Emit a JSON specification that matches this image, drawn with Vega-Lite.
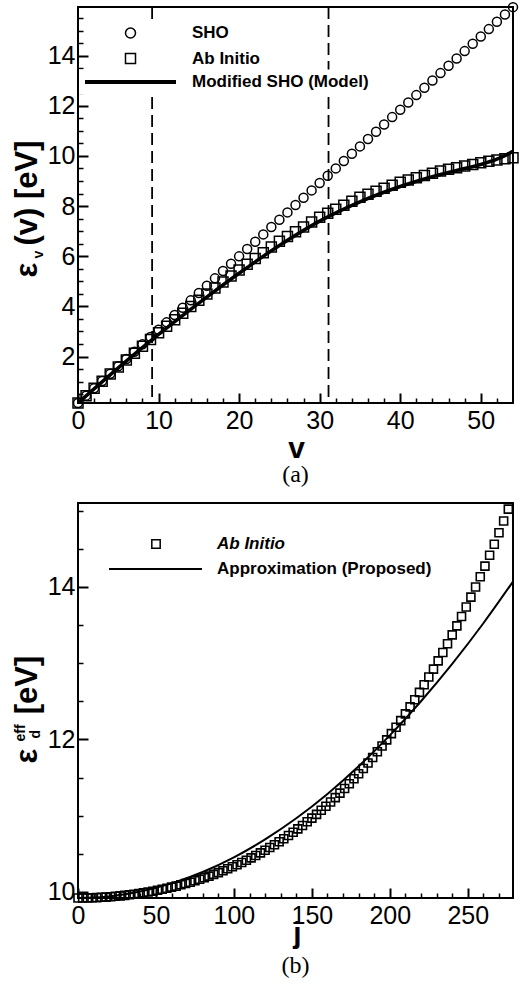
{
  "$schema": "https://vega.github.io/schema/vega-lite/v6.json",
  "background": "white",
  "padding": {"left": 10, "top": -2, "right": 0, "bottom": 0},
  "columns": 1,
  "align": "none",
  "spacing": 12,
  "resolve": {"scale": {"shape": "independent", "color": "independent"}, "legend": {"shape": "independent", "color": "independent"}},
  "datasets": {
    "a": [
      {"v": 0, "sho": 0.146, "ab": 0.146},
      {"v": 1, "sho": 0.439, "ab": 0.44},
      {"v": 2, "sho": 0.731, "ab": 0.73},
      {"v": 3, "sho": 1.023, "ab": 1.01},
      {"v": 4, "sho": 1.316, "ab": 1.30},
      {"v": 5, "sho": 1.608, "ab": 1.58},
      {"v": 6, "sho": 1.901, "ab": 1.86},
      {"v": 7, "sho": 2.193, "ab": 2.13},
      {"v": 8, "sho": 2.485, "ab": 2.41},
      {"v": 9, "sho": 2.778, "ab": 2.68},
      {"v": 10, "sho": 3.070, "ab": 2.95},
      {"v": 11, "sho": 3.363, "ab": 3.21},
      {"v": 12, "sho": 3.655, "ab": 3.47},
      {"v": 13, "sho": 3.947, "ab": 3.73},
      {"v": 14, "sho": 4.240, "ab": 3.99},
      {"v": 15, "sho": 4.532, "ab": 4.24},
      {"v": 16, "sho": 4.824, "ab": 4.49},
      {"v": 17, "sho": 5.117, "ab": 4.73},
      {"v": 18, "sho": 5.409, "ab": 4.97},
      {"v": 19, "sho": 5.702, "ab": 5.21},
      {"v": 20, "sho": 5.994, "ab": 5.45},
      {"v": 21, "sho": 6.286, "ab": 5.68},
      {"v": 22, "sho": 6.579, "ab": 5.91},
      {"v": 23, "sho": 6.871, "ab": 6.14},
      {"v": 24, "sho": 7.163, "ab": 6.37},
      {"v": 25, "sho": 7.456, "ab": 6.60},
      {"v": 26, "sho": 7.748, "ab": 6.79},
      {"v": 27, "sho": 8.041, "ab": 6.98},
      {"v": 28, "sho": 8.333, "ab": 7.17},
      {"v": 29, "sho": 8.625, "ab": 7.36},
      {"v": 30, "sho": 8.918, "ab": 7.55},
      {"v": 31, "sho": 9.210, "ab": 7.71},
      {"v": 32, "sho": 9.503, "ab": 7.87},
      {"v": 33, "sho": 9.795, "ab": 8.03},
      {"v": 34, "sho": 10.087, "ab": 8.19},
      {"v": 35, "sho": 10.380, "ab": 8.35},
      {"v": 36, "sho": 10.672, "ab": 8.47},
      {"v": 37, "sho": 10.964, "ab": 8.59},
      {"v": 38, "sho": 11.257, "ab": 8.71},
      {"v": 39, "sho": 11.549, "ab": 8.83},
      {"v": 40, "sho": 11.842, "ab": 8.95},
      {"v": 41, "sho": 12.134, "ab": 9.04},
      {"v": 42, "sho": 12.426, "ab": 9.13},
      {"v": 43, "sho": 12.719, "ab": 9.22},
      {"v": 44, "sho": 13.011, "ab": 9.31},
      {"v": 45, "sho": 13.303, "ab": 9.40},
      {"v": 46, "sho": 13.596, "ab": 9.47},
      {"v": 47, "sho": 13.888, "ab": 9.53},
      {"v": 48, "sho": 14.181, "ab": 9.60},
      {"v": 49, "sho": 14.473, "ab": 9.66},
      {"v": 50, "sho": 14.765, "ab": 9.73},
      {"v": 51, "sho": 15.058, "ab": 9.79},
      {"v": 52, "sho": 15.350, "ab": 9.84},
      {"v": 53, "sho": 15.642, "ab": 9.89},
      {"v": 54, "sho": 15.935, "ab": 9.93}
    ],
    "model": [
      {"v": 0, "e": 0.146},
      {"v": 5, "e": 1.55},
      {"v": 10, "e": 2.88},
      {"v": 15, "e": 4.13},
      {"v": 20, "e": 5.32},
      {"v": 25, "e": 6.43},
      {"v": 30, "e": 7.40},
      {"v": 35, "e": 8.17},
      {"v": 40, "e": 8.78},
      {"v": 45, "e": 9.26},
      {"v": 48, "e": 9.50},
      {"v": 50, "e": 9.66},
      {"v": 52, "e": 9.87},
      {"v": 54, "e": 10.18}
    ],
    "dash": [{"v": 9.2}, {"v": 31.1}],
    "b": [
      {"j": 0, "e": 9.920}, {"j": 3, "e": 9.920}, {"j": 6, "e": 9.921}, {"j": 9, "e": 9.923},
      {"j": 12, "e": 9.925}, {"j": 15, "e": 9.929}, {"j": 18, "e": 9.932}, {"j": 21, "e": 9.937},
      {"j": 24, "e": 9.942}, {"j": 27, "e": 9.948}, {"j": 30, "e": 9.954}, {"j": 33, "e": 9.962},
      {"j": 36, "e": 9.970}, {"j": 39, "e": 9.979}, {"j": 42, "e": 9.988}, {"j": 45, "e": 9.998},
      {"j": 48, "e": 10.009}, {"j": 51, "e": 10.021}, {"j": 54, "e": 10.034}, {"j": 57, "e": 10.047},
      {"j": 60, "e": 10.062}, {"j": 63, "e": 10.076}, {"j": 66, "e": 10.093}, {"j": 69, "e": 10.110},
      {"j": 72, "e": 10.127}, {"j": 75, "e": 10.146}, {"j": 78, "e": 10.165}, {"j": 81, "e": 10.185},
      {"j": 84, "e": 10.207}, {"j": 87, "e": 10.230}, {"j": 90, "e": 10.253}, {"j": 93, "e": 10.277},
      {"j": 96, "e": 10.303}, {"j": 99, "e": 10.329}, {"j": 102, "e": 10.356}, {"j": 105, "e": 10.385},
      {"j": 108, "e": 10.415}, {"j": 111, "e": 10.446}, {"j": 114, "e": 10.478}, {"j": 117, "e": 10.512},
      {"j": 120, "e": 10.546}, {"j": 123, "e": 10.582}, {"j": 126, "e": 10.619}, {"j": 129, "e": 10.657},
      {"j": 132, "e": 10.697}, {"j": 135, "e": 10.739}, {"j": 138, "e": 10.782}, {"j": 141, "e": 10.826},
      {"j": 144, "e": 10.871}, {"j": 147, "e": 10.919}, {"j": 150, "e": 10.967}, {"j": 153, "e": 11.017},
      {"j": 156, "e": 11.070}, {"j": 159, "e": 11.123}, {"j": 162, "e": 11.179}, {"j": 165, "e": 11.236},
      {"j": 168, "e": 11.295}, {"j": 171, "e": 11.356}, {"j": 174, "e": 11.419}, {"j": 177, "e": 11.483},
      {"j": 180, "e": 11.550}, {"j": 183, "e": 11.619}, {"j": 186, "e": 11.690}, {"j": 189, "e": 11.762},
      {"j": 192, "e": 11.837}, {"j": 195, "e": 11.914}, {"j": 198, "e": 11.994}, {"j": 201, "e": 12.076},
      {"j": 204, "e": 12.160}, {"j": 207, "e": 12.246}, {"j": 210, "e": 12.335}, {"j": 213, "e": 12.426},
      {"j": 216, "e": 12.520}, {"j": 219, "e": 12.617}, {"j": 222, "e": 12.716}, {"j": 225, "e": 12.818},
      {"j": 228, "e": 12.922}, {"j": 231, "e": 13.029}, {"j": 234, "e": 13.140}, {"j": 237, "e": 13.254},
      {"j": 240, "e": 13.370}, {"j": 243, "e": 13.489}, {"j": 246, "e": 13.611}, {"j": 249, "e": 13.736},
      {"j": 252, "e": 13.866}, {"j": 255, "e": 13.998}, {"j": 258, "e": 14.133}, {"j": 261, "e": 14.272},
      {"j": 264, "e": 14.414}, {"j": 267, "e": 14.560}, {"j": 270, "e": 14.709}, {"j": 273, "e": 14.863},
      {"j": 276, "e": 15.020}
    ],
    "bline": [
      {"j": 0, "e": 9.920},
      {"j": 20, "e": 9.941},
      {"j": 40, "e": 10.005},
      {"j": 60, "e": 10.112},
      {"j": 80, "e": 10.261},
      {"j": 100, "e": 10.453},
      {"j": 120, "e": 10.688},
      {"j": 140, "e": 10.965},
      {"j": 160, "e": 11.284},
      {"j": 180, "e": 11.647},
      {"j": 200, "e": 12.052},
      {"j": 220, "e": 12.500},
      {"j": 240, "e": 12.990},
      {"j": 260, "e": 13.523},
      {"j": 279, "e": 14.070}
    ]
  },
  "concat": [
    {
      "width": 435,
      "height": 396,
      "title": {"text": "(a)", "orient": "bottom", "frame": "group", "anchor": "middle", "font": "Liberation Serif", "fontSize": 24, "fontWeight": "normal", "color": "black", "offset": 0},
      "resolve": {"axis": {"x": "independent", "y": "independent"}},
      "layer": [
        {
          "data": {"name": "dash"},
          "mark": {"type": "rule", "color": "black", "strokeWidth": 1.8, "strokeDash": [12, 6]},
          "encoding": {
            "x": {"field": "v", "type": "quantitative", "scale": {"domain": [0, 54], "nice": false, "zero": false}, "axis": null}
          }
        },
        {
          "data": {"name": "a"},
          "mark": {"type": "point", "filled": false, "size": 81, "strokeWidth": 1.5, "color": "black", "opacity": 1},
          "encoding": {
            "x": {"field": "v", "type": "quantitative", "scale": {"domain": [0, 54], "nice": false, "zero": false},
              "axis": {"orient": "bottom", "values": [0, 10, 20, 30, 40, 50], "tickSize": -10, "tickWidth": 2, "labelFontSize": 25, "labelPadding": 15,
                "title": "v", "titleFontSize": 30, "titleFontWeight": "bold", "titleX": 218, "titleY": 54, "titleAlign": "center", "titleBaseline": "alphabetic"}},
            "y": {"field": "sho", "type": "quantitative", "scale": {"domain": [0.146, 15.94], "nice": false, "zero": false},
              "axis": {"orient": "left", "values": [2, 4, 6, 8, 10, 12, 14], "tickSize": -10, "tickWidth": 2, "labelFontSize": 25, "labelPadding": 13,
                "title": "ε", "titleFontSize": 31, "titleFontWeight": "bold", "titleAngle": 270, "titleAlign": "left", "titleBaseline": "alphabetic", "titleX": -42, "titleY": 270}},
            "shape": {"datum": "SHO", "type": "nominal",
              "scale": {"domain": ["SHO", "Ab Initio"], "range": ["circle", "square"]},
              "legend": {"orient": "none", "legendX": 40, "legendY": 13.5, "title": null, "direction": "vertical", "columns": 1,
                "padding": 4, "fillColor": "white", "labelFontSize": 17, "labelFontWeight": "bold", "labelOffset": 53, "labelLimit": 400,
                "symbolSize": 100, "symbolStrokeWidth": 1.5, "rowPadding": 7.5, "symbolStrokeColor": "black", "symbolFillColor": "transparent"}}
          }
        },
        {
          "data": {"name": "a"},
          "mark": {"type": "point", "filled": false, "size": 100, "strokeWidth": 1.5, "color": "black", "opacity": 1},
          "encoding": {
            "x": {"field": "v", "type": "quantitative",
              "axis": {"orient": "bottom", "values": [2, 4, 6, 8, 12, 14, 16, 18, 22, 24, 26, 28, 32, 34, 36, 38, 42, 44, 46, 48, 52], "tickSize": -5, "tickWidth": 1.5, "labels": false, "title": null}},
            "y": {"field": "ab", "type": "quantitative",
              "axis": {"orient": "left", "values": [0.5, 1, 1.5, 2.5, 3, 3.5, 4.5, 5, 5.5, 6.5, 7, 7.5, 8.5, 9, 9.5, 10.5, 11, 11.5, 12.5, 13, 13.5, 14.5, 15, 15.5], "tickSize": -5, "tickWidth": 1.5, "labels": false,
                "title": "v", "titleFontSize": 14, "titleFontWeight": "bold", "titleAngle": 270, "titleAlign": "left", "titleBaseline": "alphabetic", "titleX": -36, "titleY": 251}},
            "shape": {"datum": "Ab Initio", "type": "nominal"}
          }
        },
        {
          "data": {"name": "model"},
          "mark": {"type": "line", "strokeWidth": 3.5, "interpolate": "monotone"},
          "encoding": {
            "x": {"field": "v", "type": "quantitative", "axis": null},
            "y": {"field": "e", "type": "quantitative",
              "axis": {"orient": "left", "ticks": false, "labels": false,
                "title": "(v) [eV]", "titleFontSize": 31, "titleFontWeight": "bold", "titleAngle": 270, "titleAlign": "left", "titleBaseline": "alphabetic", "titleX": -42, "titleY": 238}},
            "color": {"datum": "Modified SHO (Model)", "type": "nominal", "scale": {"range": ["black"]},
              "legend": {"orient": "none", "legendX": 1, "legendY": 62.5, "title": null, "direction": "vertical", "columns": 1,
                "padding": 4, "fillColor": "white", "labelFontSize": 17, "labelFontWeight": "bold", "labelOffset": 14, "labelLimit": 400,
                "symbolType": "stroke", "symbolSize": 8281, "symbolStrokeWidth": 4, "symbolStrokeColor": "black", "clipHeight": 17}}
          }
        }
      ]
    },
    {
      "width": 435,
      "height": 395,
      "title": {"text": "(b)", "orient": "bottom", "frame": "group", "anchor": "middle", "font": "Liberation Serif", "fontSize": 24, "fontWeight": "normal", "color": "black", "offset": 6},
      "resolve": {"axis": {"x": "independent", "y": "independent"}},
      "layer": [
        {
          "data": {"name": "b"},
          "mark": {"type": "point", "filled": false, "size": 64, "strokeWidth": 1.6, "color": "black", "opacity": 1},
          "encoding": {
            "x": {"field": "j", "type": "quantitative", "scale": {"domain": [0, 279], "nice": false, "zero": false},
              "axis": {"orient": "bottom", "values": [0, 50, 100, 150, 200, 250], "tickSize": -10, "tickWidth": 2, "labelFontSize": 25, "labelPadding": 15,
                "title": "j", "titleFontSize": 30, "titleFontWeight": "bold", "titleX": 219, "titleY": 44, "titleAlign": "center", "titleBaseline": "alphabetic"}},
            "y": {"field": "e", "type": "quantitative", "scale": {"domain": [9.92, 15.1], "nice": false, "zero": false},
              "axis": {"orient": "left", "values": [10, 12, 14], "tickSize": -10, "tickWidth": 2, "labelFontSize": 25, "labelPadding": 13,
                "title": "ε\u00a0\u00a0\u00a0\u00a0[eV]", "titleFontSize": 31, "titleFontWeight": "bold", "titleAngle": 270, "titleAlign": "left", "titleBaseline": "alphabetic", "titleX": -42, "titleY": 260}},
            "shape": {"datum": "Ab Initio", "type": "nominal",
              "scale": {"domain": ["Ab Initio"], "range": ["square"]},
              "legend": {"orient": "none", "legendX": 69.5, "legendY": 32.5, "title": null, "direction": "vertical", "columns": 1,
                "padding": 0, "labelFontSize": 17, "labelFontWeight": "bold", "labelFontStyle": "italic", "labelOffset": 52.5, "labelLimit": 400,
                "symbolSize": 70, "symbolStrokeWidth": 1.5, "symbolStrokeColor": "black", "symbolFillColor": "transparent"}}
          }
        },
        {
          "data": {"name": "bline"},
          "mark": {"type": "line", "strokeWidth": 2, "interpolate": "monotone"},
          "encoding": {
            "x": {"field": "j", "type": "quantitative",
              "axis": {"orient": "bottom", "values": [10, 20, 30, 40, 60, 70, 80, 90, 110, 120, 130, 140, 160, 170, 180, 190, 210, 220, 230, 240, 260, 270], "tickSize": -5, "tickWidth": 1.5, "labels": false,
                "title": "d", "titleFontSize": 14, "titleFontWeight": "bold", "titleAngle": 270, "titleAlign": "left", "titleBaseline": "alphabetic", "titleX": -39, "titleY": -160}},
            "y": {"field": "e", "type": "quantitative",
              "axis": {"orient": "left", "values": [10.5, 11, 11.5, 12.5, 13, 13.5, 14.5, 15], "tickSize": -5, "tickWidth": 1.5, "labels": false,
                "title": "eff", "titleFontSize": 14, "titleFontWeight": "bold", "titleAngle": 270, "titleAlign": "left", "titleBaseline": "alphabetic", "titleX": -54, "titleY": 238}},
            "color": {"datum": "Approximation (Proposed)", "type": "nominal", "scale": {"range": ["black"]},
              "legend": {"orient": "none", "legendX": 30, "legendY": 57.5, "title": null, "direction": "vertical", "columns": 1,
                "padding": 0, "labelFontSize": 17, "labelFontWeight": "bold", "labelOffset": 14, "labelLimit": 400,
                "symbolType": "stroke", "symbolSize": 8649, "symbolStrokeWidth": 1.8, "symbolStrokeColor": "black", "clipHeight": 17}}
          }
        }
      ]
    }
  ],
  "config": {
    "view": {"stroke": "black", "strokeWidth": 2},
    "font": "Liberation Sans",
    "axis": {"labelColor": "black", "titleColor": "black", "tickColor": "black", "labelFont": "Liberation Sans", "titleFont": "Liberation Sans",
      "grid": false, "domain": false, "labelFlush": false, "labelOverlap": false},
    "legend": {"labelColor": "black", "labelFont": "Liberation Sans", "strokeColor": null}
  }
}
